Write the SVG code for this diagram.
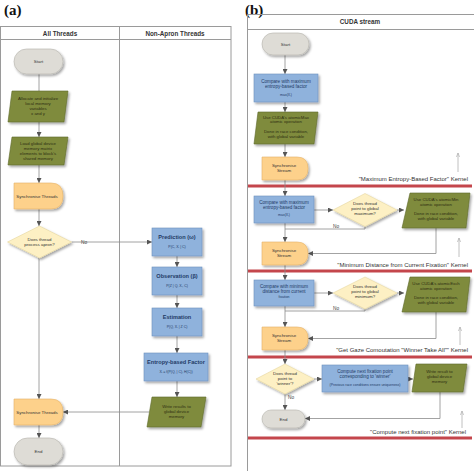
<svg xmlns="http://www.w3.org/2000/svg" width="474" height="471" viewBox="0 0 474 471">
<style>
text{font-family:"Liberation Sans","DejaVu Sans",Arial,sans-serif;}
.hdr{font-size:6.3px;font-weight:bold;fill:#333;text-anchor:middle;}
.lbl{font-size:4.4px;fill:#333;text-anchor:middle;}
.lblg{font-size:4.3px;fill:#2e2e12;text-anchor:middle;}
.lblb{font-size:4.6px;fill:#1f3b66;text-anchor:middle;}
.tit{font-size:5.6px;font-weight:bold;fill:#1f3b66;text-anchor:middle;}
.sub{font-size:3.5px;fill:#1f3b66;text-anchor:middle;}
.kern{font-size:6px;fill:#333;text-anchor:end;}
.no{font-size:4.8px;fill:#444;}
.term{fill:#dedcd6;stroke:#b5b3ad;stroke-width:0.6;filter:url(#sh);}
.io{fill:#7f8b3e;stroke:#5e692a;stroke-width:0.6;filter:url(#sh);}
.proc{fill:#8fb2dc;stroke:#6e92be;stroke-width:0.6;filter:url(#sh);}
.sync{fill:#fdd18b;stroke:#e5b46a;stroke-width:0.6;filter:url(#sh);}
.dec{fill:#fdf0c4;stroke:#e6d6a0;stroke-width:0.6;filter:url(#sh);}
.frame{fill:none;stroke:#9a9a9a;stroke-width:1;}
.red{stroke:#c4464c;stroke-width:3;}
.c{fill:none;stroke:#8c8c8c;stroke-width:0.8;}
.ca{fill:none;stroke:#8c8c8c;stroke-width:0.8;marker-end:url(#ah);}
.up{fill:none;stroke:#b0b0b0;stroke-width:0.8;marker-end:url(#uh);}
.pl{font-family:"Liberation Serif","Times New Roman",serif;font-size:15px;font-weight:bold;fill:#111;}
</style>
<defs>
<filter id="sh" x="-20%" y="-20%" width="150%" height="160%">
<feDropShadow dx="1.5" dy="1.8" stdDeviation="1" flood-color="#000" flood-opacity="0.35"/>
</filter>
<marker id="ah" viewBox="0 0 10 10" refX="10" refY="5" markerWidth="5" markerHeight="5" orient="auto" markerUnits="userSpaceOnUse">
<path d="M0,0 L10,5 L0,10 Z" fill="#555"/>
</marker>
<marker id="uh" viewBox="0 0 10 10" refX="10" refY="5" markerWidth="4" markerHeight="4" orient="auto" markerUnits="userSpaceOnUse">
<path d="M0,1 L10,5 L0,9" fill="none" stroke="#aaa" stroke-width="1.5"/>
</marker>
</defs>
<rect width="474" height="471" fill="#fff"/>

<text class="pl" x="4" y="15">(a)</text>
<text class="pl" x="245" y="15">(b)</text>

<g id="frames">
<rect class="frame" x="0.5" y="26.5" width="230.5" height="439.5"/>
<line class="frame" x1="0.5" y1="39.5" x2="231" y2="39.5"/>
<line class="frame" x1="119.5" y1="26.5" x2="119.5" y2="466"/>
<text class="hdr" x="60" y="35.5">All Threads</text>
<text class="hdr" x="175" y="35.5">Non-Apron Threads</text>
<line class="frame" x1="247.5" y1="14.5" x2="474" y2="14.5"/>
<line class="frame" x1="247.5" y1="29.5" x2="474" y2="29.5"/>
<line class="frame" x1="247.5" y1="14.5" x2="247.5" y2="471"/>
<text class="hdr" x="360" y="24">CUDA stream</text>
<line class="red" x1="248" y1="186" x2="472" y2="186"/>
<line class="red" x1="248" y1="271" x2="472" y2="271"/>
<line class="red" x1="248" y1="357" x2="472" y2="357"/>
<line class="red" x1="248" y1="438" x2="472" y2="438"/>
<text class="kern" x="468" y="181">"Maximum Entropy-Based Factor" Kernel</text>
<text class="kern" x="468" y="266.5">"Minimum Distance from Current Fixation" Kernel</text>
<text class="kern" x="468" y="352">"Get Gaze Comoutation "Winner Take All"" Kernel</text>
<text class="kern" x="466" y="434">"Compute next fixation point" Kernel</text>
</g>

<g id="connectors">
<!-- left panel -->
<line class="c" x1="39" y1="74" x2="39" y2="91"/>
<line class="ca" x1="39" y1="122" x2="39" y2="137"/>
<line class="ca" x1="39" y1="165" x2="39" y2="183"/>
<line class="ca" x1="39" y1="209" x2="39" y2="226"/>
<line class="ca" x1="71.5" y1="242" x2="152" y2="242"/>
<line class="ca" x1="39" y1="258" x2="39" y2="399"/>
<line class="ca" x1="177" y1="256" x2="177" y2="267"/>
<line class="ca" x1="177" y1="295" x2="177" y2="308"/>
<line class="ca" x1="177" y1="336" x2="177" y2="353"/>
<line class="ca" x1="177" y1="381" x2="177" y2="397"/>
<line class="ca" x1="149" y1="412" x2="63" y2="412"/>
<line class="ca" x1="39" y1="425" x2="39" y2="438"/>
<!-- right panel -->
<line class="ca" x1="285" y1="55" x2="285" y2="74"/>
<line class="ca" x1="285" y1="102" x2="285" y2="112"/>
<line class="ca" x1="285" y1="144" x2="285" y2="157"/>
<line class="ca" x1="285" y1="180" x2="285" y2="196"/>
<line class="ca" x1="314" y1="210" x2="333" y2="210"/>
<line class="ca" x1="397" y1="210" x2="404" y2="210"/>
<polyline class="c" points="365,226.5 365,229 285,229"/>
<line class="ca" x1="285" y1="223" x2="285" y2="242"/>
<polyline class="ca" points="436,228 436,253.5 308,253.5"/>
<line class="ca" x1="285" y1="265" x2="285" y2="280"/>
<line class="ca" x1="314" y1="293" x2="333" y2="293"/>
<line class="ca" x1="397" y1="293" x2="404" y2="293"/>
<polyline class="c" points="365,309 365,311 285,311"/>
<line class="ca" x1="285" y1="306" x2="285" y2="327"/>
<polyline class="ca" points="436,312 436,338.5 308,338.5"/>
<line class="ca" x1="285" y1="350" x2="285" y2="364"/>
<line class="ca" x1="314" y1="379" x2="322" y2="379"/>
<line class="ca" x1="408" y1="379" x2="413" y2="379"/>
<line class="ca" x1="285" y1="394" x2="285" y2="410"/>
<polyline class="ca" points="440,392 440,418.5 305,418.5"/>
<line class="up" x1="458" y1="172" x2="458" y2="153"/>
<line class="up" x1="459" y1="257" x2="459" y2="238"/>
<line class="up" x1="460" y1="345" x2="460" y2="327"/>
<line class="up" x1="462" y1="428" x2="462" y2="411"/>
<text class="no" x="81" y="244">No</text>
<text class="no" x="333" y="227.5">No</text>
<text class="no" x="333" y="309.5">No</text>
<text class="no" x="288" y="398.5">No</text>
</g>

<!-- left panel nodes -->
<g id="a-start">
<rect class="term" x="14" y="49" width="49" height="25" rx="12.5"/>
<text class="lbl" x="38.5" y="63">Start</text>
</g>
<g id="a-alloc">
<polygon class="io" points="12,91 68,91 64,122 8,122"/>
<text class="lblg" x="38" y="100">Allocate and initialize</text>
<text class="lblg" x="38" y="105">local memory</text>
<text class="lblg" x="38" y="110">variables</text>
<text class="lblg" x="38" y="115">x and y</text>
</g>
<g id="a-load">
<polygon class="io" points="12,137 68,137 64,165 8,165"/>
<text class="lblg" x="38" y="144.5">Load global device</text>
<text class="lblg" x="38" y="149.5">memory matrix</text>
<text class="lblg" x="38" y="154.5">elements to block's</text>
<text class="lblg" x="38" y="159.5">shared memory</text>
</g>
<g id="a-sync1">
<path class="sync" d="M14,183 H51 Q63,183 63,196 Q63,209 51,209 H14 Z"/>
<text class="lbl" x="37" y="197.5" fill="#4a3a1a">Synchronise Threads</text>
</g>
<g id="a-apron">
<polygon class="dec" points="7.5,242 39.5,226 71.5,242 39.5,258"/>
<text class="lbl" x="39.5" y="241">Does thread</text>
<text class="lbl" x="39.5" y="246">process apron?</text>
</g>
<g id="a-pred">
<rect class="proc" x="152" y="228" width="50" height="28"/>
<text class="tit" x="177" y="239">Prediction (ω)</text>
<text class="sub" x="177" y="248">P(C, Xᵢ | C)</text>
</g>
<g id="a-obs">
<rect class="proc" x="152" y="267" width="50" height="28"/>
<text class="tit" x="177" y="278">Observation (β)</text>
<text class="sub" x="177" y="287">P(Z | Q, Xᵢ, C)</text>
</g>
<g id="a-est">
<rect class="proc" x="152" y="308" width="50" height="28"/>
<text class="tit" x="177" y="319">Estimation</text>
<text class="sub" x="177" y="328">P(Q, Xᵢ | Z C)</text>
</g>
<g id="a-entropy">
<rect class="proc" x="144" y="353" width="64" height="28"/>
<text class="tit" x="176" y="364">Entropy-based Factor</text>
<text class="sub" x="176" y="373">Xᵢ = f(P(Q, | C), H(C))</text>
</g>
<g id="a-write">
<polygon class="io" points="152,397 206,397 201,427 147,427"/>
<text class="lblg" x="176.5" y="408">Write results to</text>
<text class="lblg" x="176.5" y="413">global device</text>
<text class="lblg" x="176.5" y="418">memory</text>
</g>
<g id="a-sync2">
<path class="sync" d="M14,399 H51 Q63,399 63,412 Q63,425 51,425 H14 Z"/>
<text class="lbl" x="37" y="413.5" fill="#4a3a1a">Synchronise Threads</text>
</g>
<g id="a-end">
<rect class="term" x="14" y="438" width="49" height="27" rx="13.5"/>
<text class="lbl" x="38.5" y="453">End</text>
</g>

<!-- right panel nodes -->
<g id="b-start">
<rect class="term" x="262" y="33" width="47" height="22" rx="11"/>
<text class="lbl" x="285.5" y="45.5">Start</text>
</g>
<g id="b-cmp1">
<rect class="proc" x="254" y="74" width="64" height="28"/>
<text class="lblb" x="286" y="82.5">Compare with maximum</text>
<text class="lblb" x="286" y="87.5">entropy-based factor</text>
<text class="sub" x="286" y="95.5">max(Xᵢ)</text>
</g>
<g id="b-max1">
<polygon class="io" points="258,112 318,112 314,144 254,144"/>
<text class="lblg" x="286" y="118.5">Use CUDA's atomicMax</text>
<text class="lblg" x="286" y="123">atomic operation</text>
<text class="lblg" x="286" y="132.5">Done in race condition,</text>
<text class="lblg" x="286" y="137.5">with global variable</text>
</g>
<g id="b-sync1">
<path class="sync" d="M262,157 H297 Q308,157 308,168.5 Q308,180 297,180 H262 Z"/>
<text class="lbl" x="284" y="167" fill="#4a3a1a">Synchronise</text>
<text class="lbl" x="284" y="172" fill="#4a3a1a">Stream</text>
</g>
<g id="b-cmp2">
<rect class="proc" x="254" y="196" width="60" height="27"/>
<text class="lblb" x="284" y="203.5">Compare with maximum</text>
<text class="lblb" x="284" y="208.5">entropy-based factor</text>
<text class="sub" x="284" y="216">max(Xᵢ)</text>
</g>
<g id="b-dec2">
<polygon class="dec" points="333,210 365,193.5 397,210 365,226.5"/>
<text class="lbl" x="365" y="205">Does thread</text>
<text class="lbl" x="365" y="210">point to global</text>
<text class="lbl" x="365" y="215">maximum?</text>
</g>
<g id="b-min2">
<polygon class="io" points="410,193 470,193 466,228 402,228"/>
<text class="lblg" x="436" y="201">Use CUDA's atomicMin</text>
<text class="lblg" x="436" y="205.5">atomic operation</text>
<text class="lblg" x="436" y="214.5">Done in race condition,</text>
<text class="lblg" x="436" y="219.5">with global variable</text>
</g>
<g id="b-sync2">
<path class="sync" d="M262,242 H297 Q308,242 308,253.5 Q308,265 297,265 H262 Z"/>
<text class="lbl" x="284" y="252" fill="#4a3a1a">Synchronise</text>
<text class="lbl" x="284" y="257" fill="#4a3a1a">Stream</text>
</g>
<g id="b-cmp3">
<rect class="proc" x="254" y="280" width="60" height="26"/>
<text class="lblb" x="284" y="287.5">Compare with minimum</text>
<text class="lblb" x="284" y="292.5">distance from current</text>
<text class="sub" x="284" y="298">fixation</text>
</g>
<g id="b-dec3">
<polygon class="dec" points="333,293 365,277 397,293 365,309"/>
<text class="lbl" x="365" y="288">Does thread</text>
<text class="lbl" x="365" y="293">point to global</text>
<text class="lbl" x="365" y="298">minimum?</text>
</g>
<g id="b-exch3">
<polygon class="io" points="410,277 470,277 466,312 402,312"/>
<text class="lblg" x="436" y="285">Use CUDA's atomicExch</text>
<text class="lblg" x="436" y="289.5">atomic operation</text>
<text class="lblg" x="436" y="298.5">Done in race condition,</text>
<text class="lblg" x="436" y="303.5">with global variable</text>
</g>
<g id="b-sync3">
<path class="sync" d="M262,327 H297 Q308,327 308,338.5 Q308,350 297,350 H262 Z"/>
<text class="lbl" x="284" y="337" fill="#4a3a1a">Synchronise</text>
<text class="lbl" x="284" y="342" fill="#4a3a1a">Stream</text>
</g>
<g id="b-dec4">
<polygon class="dec" points="256,379 285,364 314,379 285,394"/>
<text class="lbl" x="285" y="375">Does thread</text>
<text class="lbl" x="285" y="380">point to</text>
<text class="lbl" x="285" y="385">'winner'?</text>
</g>
<g id="b-compute">
<rect class="proc" x="322" y="365" width="86" height="27"/>
<text class="lblb" x="365" y="372.5">Compute next fixation point</text>
<text class="lblb" x="365" y="377.5">corresponding to 'winner'</text>
<text class="sub" x="365" y="386">(Previous race conditions ensure uniqueness)</text>
</g>
<g id="b-write">
<polygon class="io" points="416,364 467,364 463,392 412,392"/>
<text class="lblg" x="439.5" y="373">Write result to</text>
<text class="lblg" x="439.5" y="378">global device</text>
<text class="lblg" x="439.5" y="383">memory</text>
</g>
<g id="b-end">
<rect class="term" x="262" y="410" width="43" height="18" rx="9"/>
<text class="lbl" x="283.5" y="420.5">End</text>
</g>
</svg>
